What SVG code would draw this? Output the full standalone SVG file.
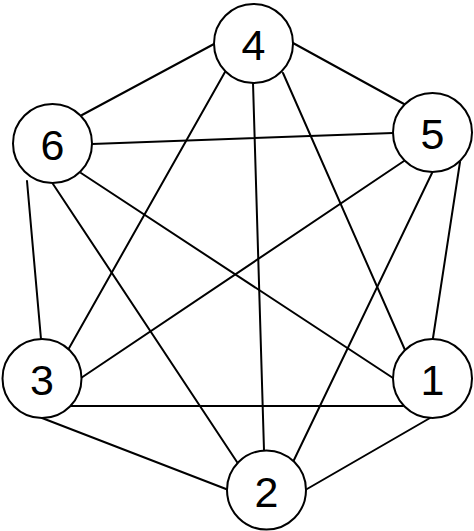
<svg xmlns="http://www.w3.org/2000/svg" width="474" height="531" viewBox="0 0 474 531">
<style>
.e{stroke:#000;stroke-width:2;fill:none;stroke-linecap:round}
.n circle{fill:#fff;stroke:#000;stroke-width:2}
.n text{font-family:"Liberation Sans","Open Sans",sans-serif;font-size:43px;text-anchor:middle;fill:#000}
</style>
<rect width="474" height="531" fill="#fff"/>
<g id="edges" class="e">
<line x1="214" y1="44" x2="82" y2="115"/>
<line x1="293" y1="43" x2="404" y2="104"/>
<line x1="225" y1="72" x2="68" y2="350"/>
<line x1="253" y1="83" x2="264" y2="450"/>
<line x1="283" y1="73" x2="405" y2="350"/>
<line x1="92" y1="144" x2="393" y2="133"/>
<line x1="27" y1="181" x2="41" y2="339"/>
<line x1="53" y1="184" x2="237" y2="462"/>
<line x1="81" y1="173" x2="393" y2="378"/>
<line x1="404" y1="161" x2="81" y2="378"/>
<line x1="432" y1="173" x2="293" y2="462"/>
<line x1="460" y1="162" x2="433" y2="338"/>
<line x1="70" y1="406" x2="403" y2="406"/>
<line x1="42" y1="418" x2="226" y2="489"/>
<line x1="430" y1="418" x2="307" y2="489"/>
</g>
<g id="node4" class="n"><circle cx="253.5" cy="43.5" r="39.5"/><text x="253.5" y="60">4</text></g>
<g id="node5" class="n"><circle cx="432.5" cy="132.5" r="39.5"/><text x="432.5" y="149">5</text></g>
<g id="node6" class="n"><circle cx="52.5" cy="143.5" r="39.5"/><text x="52.5" y="160">6</text></g>
<g id="node3" class="n"><circle cx="42" cy="378.5" r="39.5"/><text x="42" y="395">3</text></g>
<g id="node1" class="n"><circle cx="432.5" cy="378.5" r="39.5"/><text x="432.5" y="395">1</text></g>
<g id="node2" class="n"><circle cx="266.5" cy="490" r="39.5"/><text x="266.5" y="506.5">2</text></g>
</svg>
